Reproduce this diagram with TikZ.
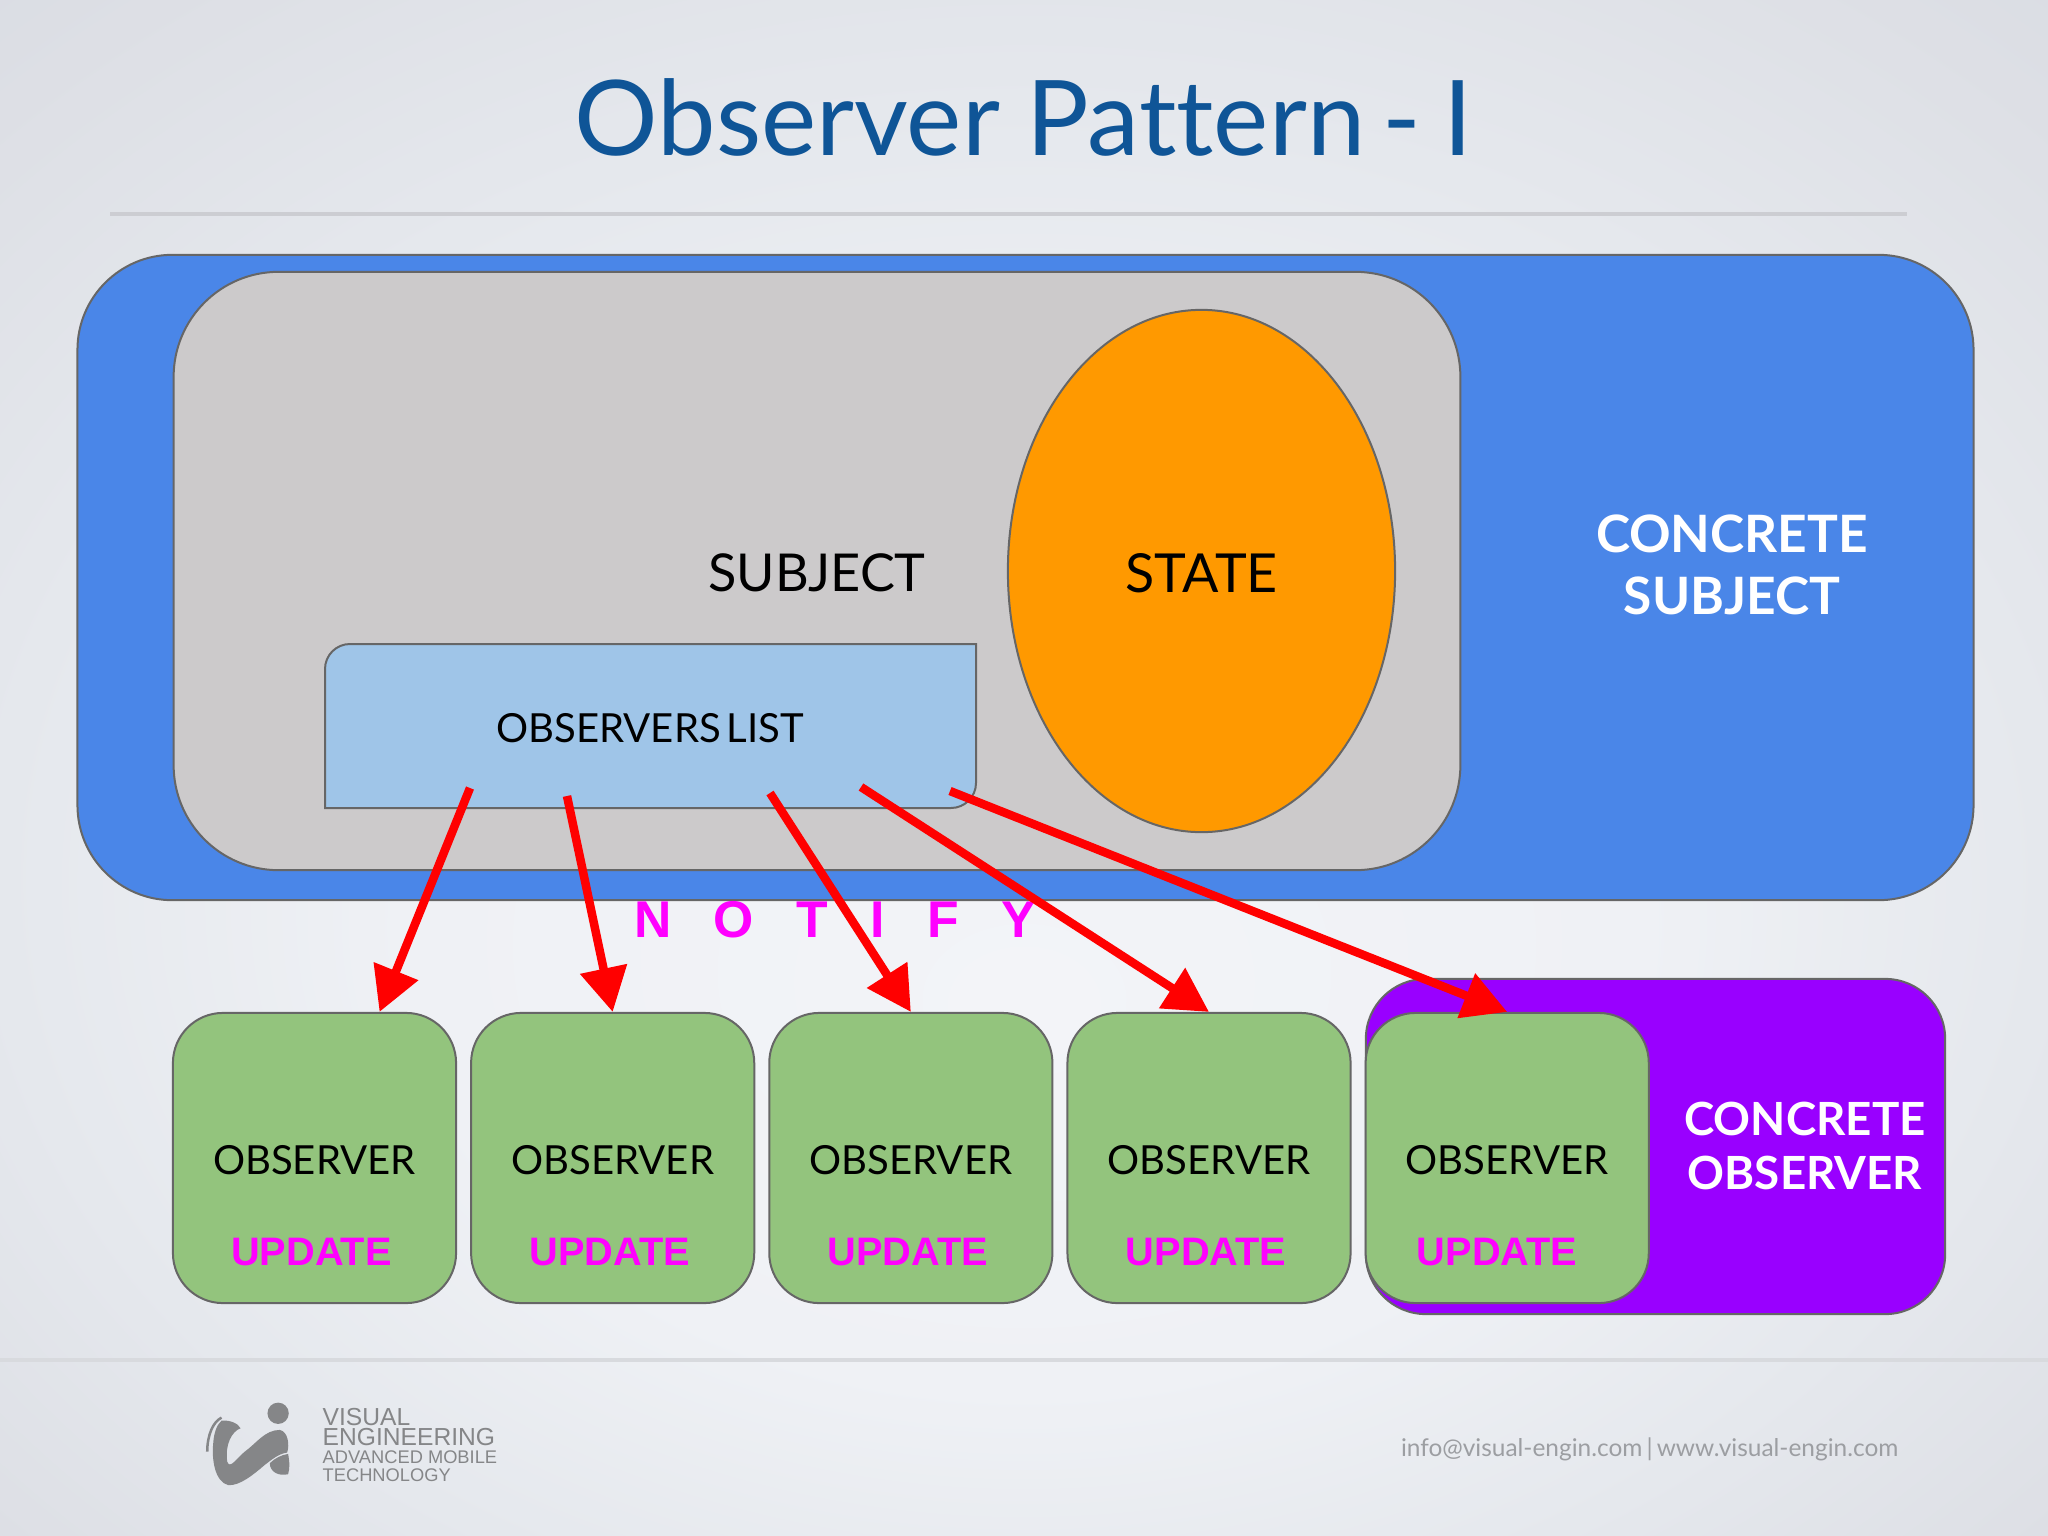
\documentclass[tikz,border=0pt]{standalone}
\usepackage{fontspec}
\usepackage{tikz}
\usetikzlibrary{positioning,shapes.geometric,arrows.meta}
\setmainfont[Ligatures=NoCommon]{Lato}
\newfontfamily\arialfont{Liberation Sans}
\newfontfamily\notifyfont[LetterSpace=82]{Liberation Sans}
\definecolor{slideblue}{HTML}{0F5597}
\definecolor{edgegray}{HTML}{666666}
\definecolor{subjectblue}{HTML}{4A86E8}
\definecolor{subjectgray}{HTML}{CCCACB}
\definecolor{stateorange}{HTML}{FF9900}
\definecolor{listblue}{HTML}{9FC5E8}
\definecolor{observergreen}{HTML}{93C47D}
\definecolor{observerpurple}{HTML}{9900FF}
\definecolor{updatepink}{HTML}{FF00FF}
\definecolor{arrowred}{HTML}{FF0000}
\definecolor{logogray}{HTML}{858688}
\definecolor{footergray}{HTML}{9C9EA2}
\definecolor{rulegray}{HTML}{CCCDD2}
\definecolor{footerrule}{HTML}{D8DADE}
\definecolor{bga}{HTML}{F3F4F8}
\definecolor{bgb}{HTML}{EFF1F5}
\definecolor{bgc}{HTML}{E5E8ED}
\definecolor{bgd}{HTML}{DDDFE5}
\definecolor{bge}{HTML}{D3D8DF}
\pgfdeclareradialshading{slidebg}{\pgfpoint{0bp}{-8bp}}{color(0bp)=(bga); color(15bp)=(bgb); color(25bp)=(bgc); color(34bp)=(bgd); color(44bp)=(bge)}
\tikzset{
  box/.style={draw=edgegray, line width=0.2mm, inner sep=0pt},
  observer/.style={box, fill=observergreen, rounded corners=0.5cm, minimum width=2.83cm, minimum height=2.9cm},
  notify/.style={-{Triangle[length=4.4mm, width=4.6mm]}, arrowred, line width=0.85mm},
  observertext/.style={font=\fontsize{11.4}{13}\selectfont},
  updatetext/.style={font=\arialfont\bfseries\fontsize{11.3}{13}\selectfont, text=updatepink},
  concrete/.style={font=\bfseries\fontsize{14.65}{17.6}\selectfont, text=white, align=center},
  rule/.style={line width=0.35mm, draw=rulegray},
  logotext/.style={anchor=west, inner sep=0pt, text=logogray}
}
\begin{document}
\begin{tikzpicture}[x=0.01cm, y=-0.01cm]
\useasboundingbox (0,0) rectangle (2048,1536);
\shade[shading=slidebg] (0,0) rectangle (2048,1536);
% title
\node[anchor=base, text=slideblue, font=\fontsize{29.7}{36}\selectfont] (title) at (1023.5,155.5) {Observer Pattern \kern-0.09em- \kern-0.05em I};
\coordinate (ruleleft) at (110,214);
\coordinate (ruleright) at (1907,214);
\draw[rule] (ruleleft) -- (ruleright);
% subject
\node[box, fill=subjectblue, rounded corners=0.95cm, minimum width=18.95cm, minimum height=6.45cm] (concretesubject) at (1025.5,577.5) {};
\node[box, fill=subjectgray, rounded corners=1.05cm, minimum width=12.86cm, minimum height=5.98cm] (subject) at (817,571) {};
\node[box, fill=stateorange, shape=ellipse, minimum width=3.87cm, minimum height=5.22cm] (state) at (1201.5,571) {};
\node[font=\fontsize{15.3}{18}\selectfont] (statelabel) at (1201.5,573) {STATE};
\node[font=\fontsize{14.85}{18}\selectfont] (subjectlabel) at (817,573) {SUBJECT};
\node[concrete] (concretesubjectlabel) at (1732,565) {CONCRETE\\SUBJECT};
% list
\coordinate (listsw) at (325,808);
\coordinate (listnw) at (325,644);
\coordinate (listne) at (976,644);
\coordinate (listse) at (976,808);
\draw[box, fill=listblue] (listsw) [rounded corners=0.25cm] -- (listnw) [sharp corners] -- (listne) [rounded corners=0.25cm] -- (listse) [sharp corners] -- cycle;
\node[font=\fontsize{11.4}{14}\selectfont] (list) at (650,728) {OBSERVERS\hspace{0.14em}LIST};
\node[font=\notifyfont\bfseries\fontsize{14.7}{16}\selectfont, text=updatepink] (notifylabel) at (835,920) {NOTIFY};
% observers
\node[box, fill=observerpurple, rounded corners=0.6cm, minimum width=5.79cm, minimum height=3.35cm] (concreteobserver) at (1655.5,1146.5) {};
\node[observer] (obsa) at (314.5,1158) {};
\node[observer, right=0.13cm of obsa] (obsb) {};
\node[observer, right=0.13cm of obsb] (obsc) {};
\node[observer, right=0.13cm of obsc] (obsd) {};
\node[observer, right=0.13cm of obsd] (obse) {};
\node[observertext, yshift=-0.02cm] (obsatext) at (obsa) {OBSERVER};
\node[observertext, yshift=-0.02cm] (obsbtext) at (obsb) {OBSERVER};
\node[observertext, yshift=-0.02cm] (obsctext) at (obsc) {OBSERVER};
\node[observertext, yshift=-0.02cm] (obsdtext) at (obsd) {OBSERVER};
\node[observertext, yshift=-0.02cm] (obsetext) at (obse) {OBSERVER};
\node[updatetext, xshift=-0.03cm, yshift=-0.94cm] (obsaupdate) at (obsa) {UPDATE};
\node[updatetext, xshift=-0.03cm, yshift=-0.94cm] (obsbupdate) at (obsb) {UPDATE};
\node[updatetext, xshift=-0.03cm, yshift=-0.94cm] (obscupdate) at (obsc) {UPDATE};
\node[updatetext, xshift=-0.03cm, yshift=-0.94cm] (obsdupdate) at (obsd) {UPDATE};
\node[updatetext, xshift=-0.10cm, yshift=-0.94cm] (obseupdate) at (obse) {UPDATE};
\node[concrete, font=\bfseries\fontsize{13}{15.6}\selectfont] (concreteobserverlabel) at (1805,1146) {CONCRETE\\OBSERVER};
% arrows
\coordinate (froma) at (470,788);
\coordinate (fromb) at (567,796);
\coordinate (fromc) at (770,793);
\coordinate (fromd) at (861,787);
\coordinate (frome) at (950,791);
\draw[notify] (froma) -- ([xshift=0.65cm] obsa.north);
\draw[notify] (fromb) -- (obsb.north);
\draw[notify] (fromc) -- (obsc.north);
\draw[notify] (fromd) -- (obsd.north);
\draw[notify] (frome) -- (obse.north);
% footer
\coordinate (footerleft) at (0,1360);
\coordinate (footerright) at (2048,1360);
\draw[rule, draw=footerrule] (footerleft) -- (footerright);
\begin{scope}[shift={(150,1380)}, x=0.00333cm, y=-0.00333cm]
\fill[logogray] (385,100) circle (32);
\fill[logogray] (215,122) .. controls (240,120) and (265,130) .. (272,145) .. controls (245,155) and (225,195) .. (232,245) .. controls (240,270) and (260,235) .. (285,215) .. controls (320,190) and (345,150) .. (390,150) .. controls (415,155) and (420,195) .. (412,218) .. controls (385,222) and (365,240) .. (345,255) .. controls (310,285) and (270,318) .. (235,316) .. controls (195,305) and (185,240) .. (190,190) .. controls (192,160) and (200,135) .. (215,122) -- cycle;
\fill[logogray] (415,222) .. controls (420,250) and (420,265) .. (415,283) .. controls (385,290) and (360,275) .. (360,250) .. controls (375,235) and (395,225) .. (415,222) -- cycle;
\draw[logogray, line width=0.25mm] (172,215) .. controls (172,165) and (190,125) .. (215,113);
\end{scope}
\node[logotext, font=\arialfont\fontsize{7}{8}\selectfont] (logoa) at (322,1417) {VISUAL};
\node[logotext, font=\arialfont\fontsize{7}{8}\selectfont] (logob) at (322,1437) {ENGINEERING};
\node[logotext, font=\arialfont\fontsize{5.2}{6}\selectfont] (logoc) at (322,1457) {ADVANCED MOBILE};
\node[logotext, font=\arialfont\fontsize{5.2}{6}\selectfont] (logod) at (322,1475) {TECHNOLOGY};
\node[anchor=east, inner sep=0pt, text=footergray, font=\fontsize{6.95}{9}\selectfont] (contact) at (1899,1449) {info@visual-engin.com\,|\,www.visual-engin.com};
\end{tikzpicture}
\end{document}
